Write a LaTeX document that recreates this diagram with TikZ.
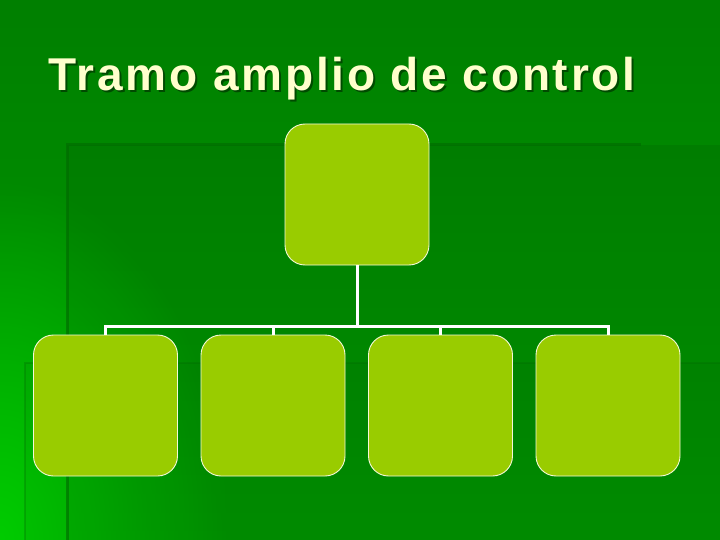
\documentclass[tikz,border=0pt]{standalone}
\usepackage{fontspec}
\newfontfamily\titlefont[LetterSpace=6]{Liberation Sans}
\usetikzlibrary{fadings}
\definecolor{bgtop}{HTML}{007F00}
\definecolor{bgbot}{HTML}{009C00}
\definecolor{bgbright}{HTML}{00CC00}
\definecolor{edge}{HTML}{006A00}
\definecolor{boxfill}{HTML}{99CC00}
\definecolor{boxline}{HTML}{F4F8D8}
\definecolor{titlecol}{HTML}{FFFFCC}
\definecolor{shadowcol}{HTML}{004A00}
\tikzfading[name=blob, inner color=transparent!0, outer color=transparent!100]
\tikzset{
  orgbox/.style={draw=boxline, line width=0.9pt, fill=boxfill, rounded corners=20pt,
    minimum width=144pt, minimum height=141pt, inner sep=0pt},
  conn/.style={draw=white, line width=3pt, line join=miter},
  edgeline/.style={draw=edge, line width=3pt},
  titletext/.style={anchor=base west, inner sep=0pt,
    font=\titlefont\fontsize{46}{52}\selectfont\bfseries}
}
\begin{document}
\begin{tikzpicture}[x=1pt, y=-1pt]
\useasboundingbox (0,0) rectangle (720,540);
% background
\shade[top color=bgtop, bottom color=bgbot] (0,0) rectangle (720,540);
\begin{scope}
\clip (0,0) rectangle (720,540);
\fill[bgbright, path fading=blob] (-230,180) rectangle (230,900);
\end{scope}
% decorative panels
\fill[black, opacity=0.07] (67,145) rectangle (720,540);
\fill[black, opacity=0.04] (25,363) rectangle (720,540);
\draw[edgeline, opacity=0.6] (67,540) -- (67,145) -- (641,145);
\draw[edgeline, line width=2pt, opacity=0.3] (25,540) -- (25,363) -- (720,363);
% title (shadow + text)
\node[titletext, text=shadowcol] at (50.5,92.5) {Tramo amplio de control};
\node[titletext, text=titlecol] (title) at (48.5,90.5) {Tramo amplio de control};
% org chart
\node[orgbox] (top) at (357,194.5) {};
\node[orgbox] (b1) at (105.5,405.5) {};
\node[orgbox] (b2) at (273,405.5) {};
\node[orgbox] (b3) at (440.5,405.5) {};
\node[orgbox] (b4) at (608,405.5) {};
\coordinate (j) at (357,326);
\draw[conn] (top.south) -- (j);
\draw[conn] (b1.north) |- (j) -| (b4.north);
\draw[conn] (j -| b2.north) -- (b2.north);
\draw[conn] (j -| b3.north) -- (b3.north);
\end{tikzpicture}
\end{document}
